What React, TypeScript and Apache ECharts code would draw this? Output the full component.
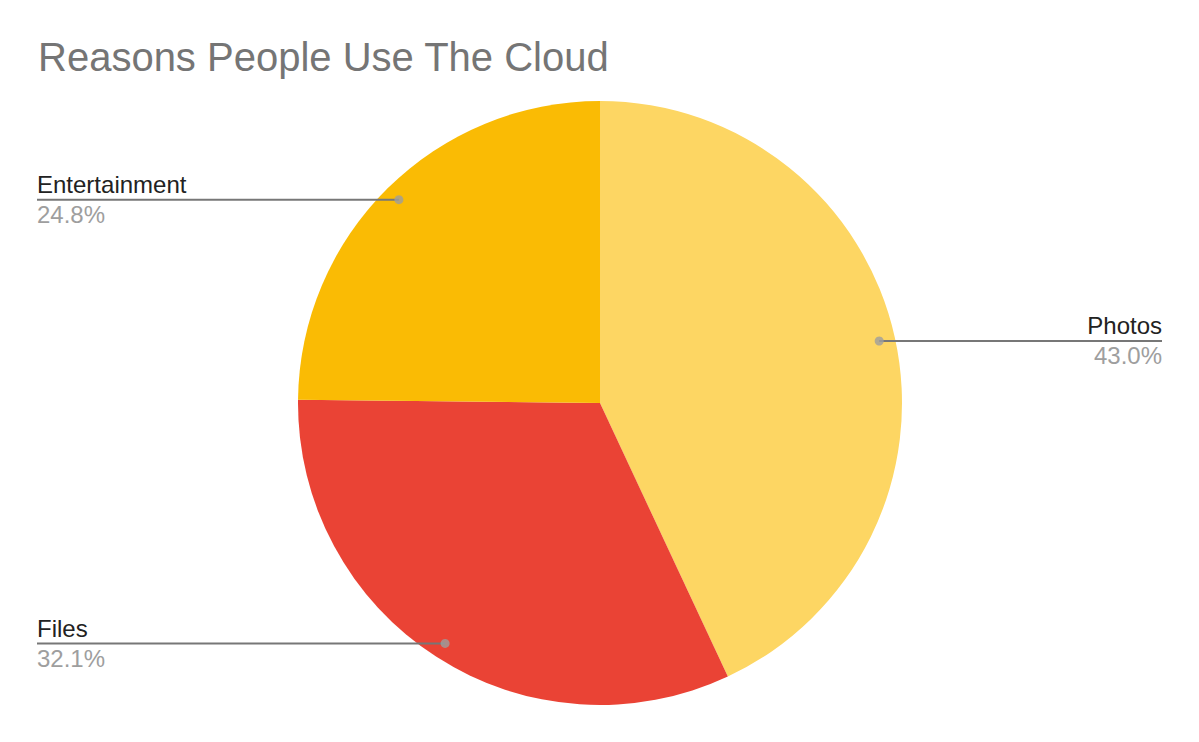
import React, { useEffect, useRef } from 'react';
import * as echarts from 'echarts';

const categories = ['Photos', 'Files', 'Entertainment'];
const values = [43.0, 32.1, 24.8];
const colors = ['#FDD663', '#EA4335', '#FABB04'];

const FONT = '"Liberation Sans", Arial, sans-serif';
const CENTER = [600, 403];
const RADIUS = 302;
const DOT_RADIUS = 286;

const App: React.FC = () => {
  const chartRef = useRef<HTMLDivElement>(null);

  useEffect(() => {
    if (!chartRef.current) return;
    const chart = echarts.init(chartRef.current, undefined, { renderer: 'svg' });

    const total = values.reduce((a, b) => a + b, 0);
    const pieData = categories.map((name, i) => ({
      name,
      value: values[i],
      itemStyle: { color: colors[i] }
    }));

    // middle of each slice, in percent of the full circle
    let acc = 0;
    const dots = values.map(v => {
      const mid = ((acc + v / 2) / total) * 100;
      acc += v;
      return [DOT_RADIUS, mid];
    });

    const option: echarts.EChartsOption = {
      animation: false,
      backgroundColor: '#ffffff',
      textStyle: { fontFamily: FONT },
      title: {
        text: 'Reasons People Use The Cloud',
        left: 33,
        top: 32,
        textStyle: {
          color: '#757575',
          fontSize: 40,
          fontWeight: 'normal',
          fontFamily: FONT
        }
      },
      polar: { center: CENTER, radius: RADIUS },
      angleAxis: {
        type: 'value',
        min: 0,
        max: 100,
        startAngle: 90,
        clockwise: true,
        show: false
      },
      radiusAxis: { type: 'value', min: 0, max: RADIUS, show: false },
      series: [
        {
          type: 'pie',
          center: CENTER,
          radius: RADIUS,
          startAngle: 90,
          clockwise: true,
          silent: true,
          label: { show: false },
          labelLine: { show: false },
          data: pieData
        },
        {
          type: 'pie',
          center: CENTER,
          radius: DOT_RADIUS,
          startAngle: 90,
          clockwise: true,
          silent: true,
          z: 3,
          itemStyle: { color: 'rgba(0,0,0,0)' },
          data: categories.map((name, i) => ({ name, value: values[i] })),
          label: {
            show: true,
            position: 'outside',
            alignTo: 'edge',
            edgeDistance: 37,
            formatter: (p: any) => `{n|${p.name}}\n{p|${p.value.toFixed(1)}%}`,
            rich: {
              n: { fontSize: 24, color: '#222222', lineHeight: 30, fontFamily: FONT },
              p: { fontSize: 24, color: '#9E9E9E', lineHeight: 30, fontFamily: FONT }
            }
          },
          labelLine: {
            show: true,
            length: 0,
            length2: 20,
            lineStyle: { color: '#777777', width: 2 }
          },
          labelLayout: (params: any) => {
            const pts = params.labelLinePoints;
            if (!pts || !pts.length) return {};
            const start = pts[0];
            const r = params.labelRect;
            const endX = start[0] < r.x ? r.x + r.width : r.x;
            return { labelLinePoints: [start, [endX, start[1]]] };
          }
        },
        {
          type: 'scatter',
          coordinateSystem: 'polar',
          silent: true,
          z: 4,
          symbol: 'circle',
          symbolSize: 9,
          itemStyle: { color: '#9E9E9E' },
          data: dots
        }
      ]
    };

    chart.setOption(option);
    return () => {
      chart.dispose();
    };
  }, []);

  return (
    <div
      ref={chartRef}
      style={{ position: 'fixed', left: 0, top: 0, width: 1199, height: 742 }}
    />
  );
};

export default App;
